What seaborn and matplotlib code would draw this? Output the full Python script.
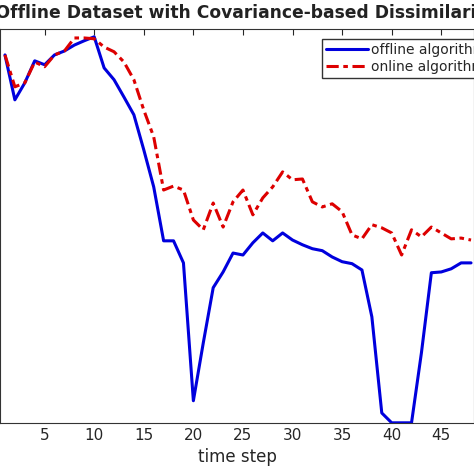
import numpy as np
import pandas as pd
import matplotlib
matplotlib.use("Agg")
import matplotlib.pyplot as plt
import seaborn as sns

steps = list(range(1, 49))
offline = [93.4, 82.0, 86.3, 91.9, 90.9, 93.4, 94.4, 95.9, 97.0, 98.0,
           90.1, 87.1, 82.7, 78.2, 69.3, 59.9, 46.2, 46.2, 40.6, 5.6,
           20.3, 34.3, 38.3, 43.1, 42.6, 45.7, 48.2, 46.2, 48.2, 46.4,
           45.2, 44.2, 43.7, 42.1, 40.9, 40.4, 38.8, 26.9, 2.5, 0.0,
           0.0, 0.0, 17.8, 38.1, 38.3, 39.1, 40.6, 40.6]
online = [93.4, 85.3, 86.3, 91.6, 90.4, 93.4, 94.4, 97.7, 97.7, 97.5,
          95.4, 94.2, 91.6, 87.1, 79.4, 72.6, 59.1, 60.1, 59.1, 51.5,
          49.0, 55.8, 49.7, 56.1, 59.1, 52.8, 57.1, 59.9, 63.7, 61.7,
          61.9, 56.1, 54.8, 55.6, 53.6, 47.7, 46.7, 50.3, 49.5, 48.2,
          42.6, 49.0, 47.2, 49.7, 48.2, 46.7, 46.9, 46.4]

df = pd.DataFrame({"step": steps, "offline": offline, "online": online})

sns.set_style("white")
fig = plt.figure(figsize=(4.74, 4.74), dpi=100)
ax = fig.add_axes([0.0, 0.108, 1.0, 0.831])

sns.lineplot(data=df, x="step", y="offline", ax=ax, color="#0000dd",
             lw=2.2, label="offline algorithm")
sns.lineplot(data=df, x="step", y="online", ax=ax, color="#dd0000",
             lw=2.2, ls=(0, (4, 1.5, 1.5, 1.5)), label="online algorithm")

ax.set_xlim(0.5, 48.3)
ax.set_ylim(0, 100)
ax.set_xticks([5, 10, 15, 20, 25, 30, 35, 40, 45])
ax.set_yticks([])
ax.tick_params(axis="x", direction="in", top=True, length=4, labelsize=11)
ax.set_xlabel("time step", fontsize=12)
ax.set_ylabel("")
for s in ax.spines.values():
    s.set_color("#333333")
    s.set_linewidth(0.8)

# title is wider than the canvas in the reference, so it is cut at both edges
ax.set_title("Clustering Offline Dataset with Covariance-based Dissimilarity Measure",
             fontsize=12.3, fontweight="bold", pad=8, color="#222222")
ax.legend(loc="upper left", bbox_to_anchor=(0.68, 0.975), fontsize=10,
          frameon=True, fancybox=False, edgecolor="black", handlelength=3,
          borderaxespad=0, handletextpad=0.2, borderpad=0.3, labelspacing=0.2)

fig.savefig("out.png", dpi=100)
